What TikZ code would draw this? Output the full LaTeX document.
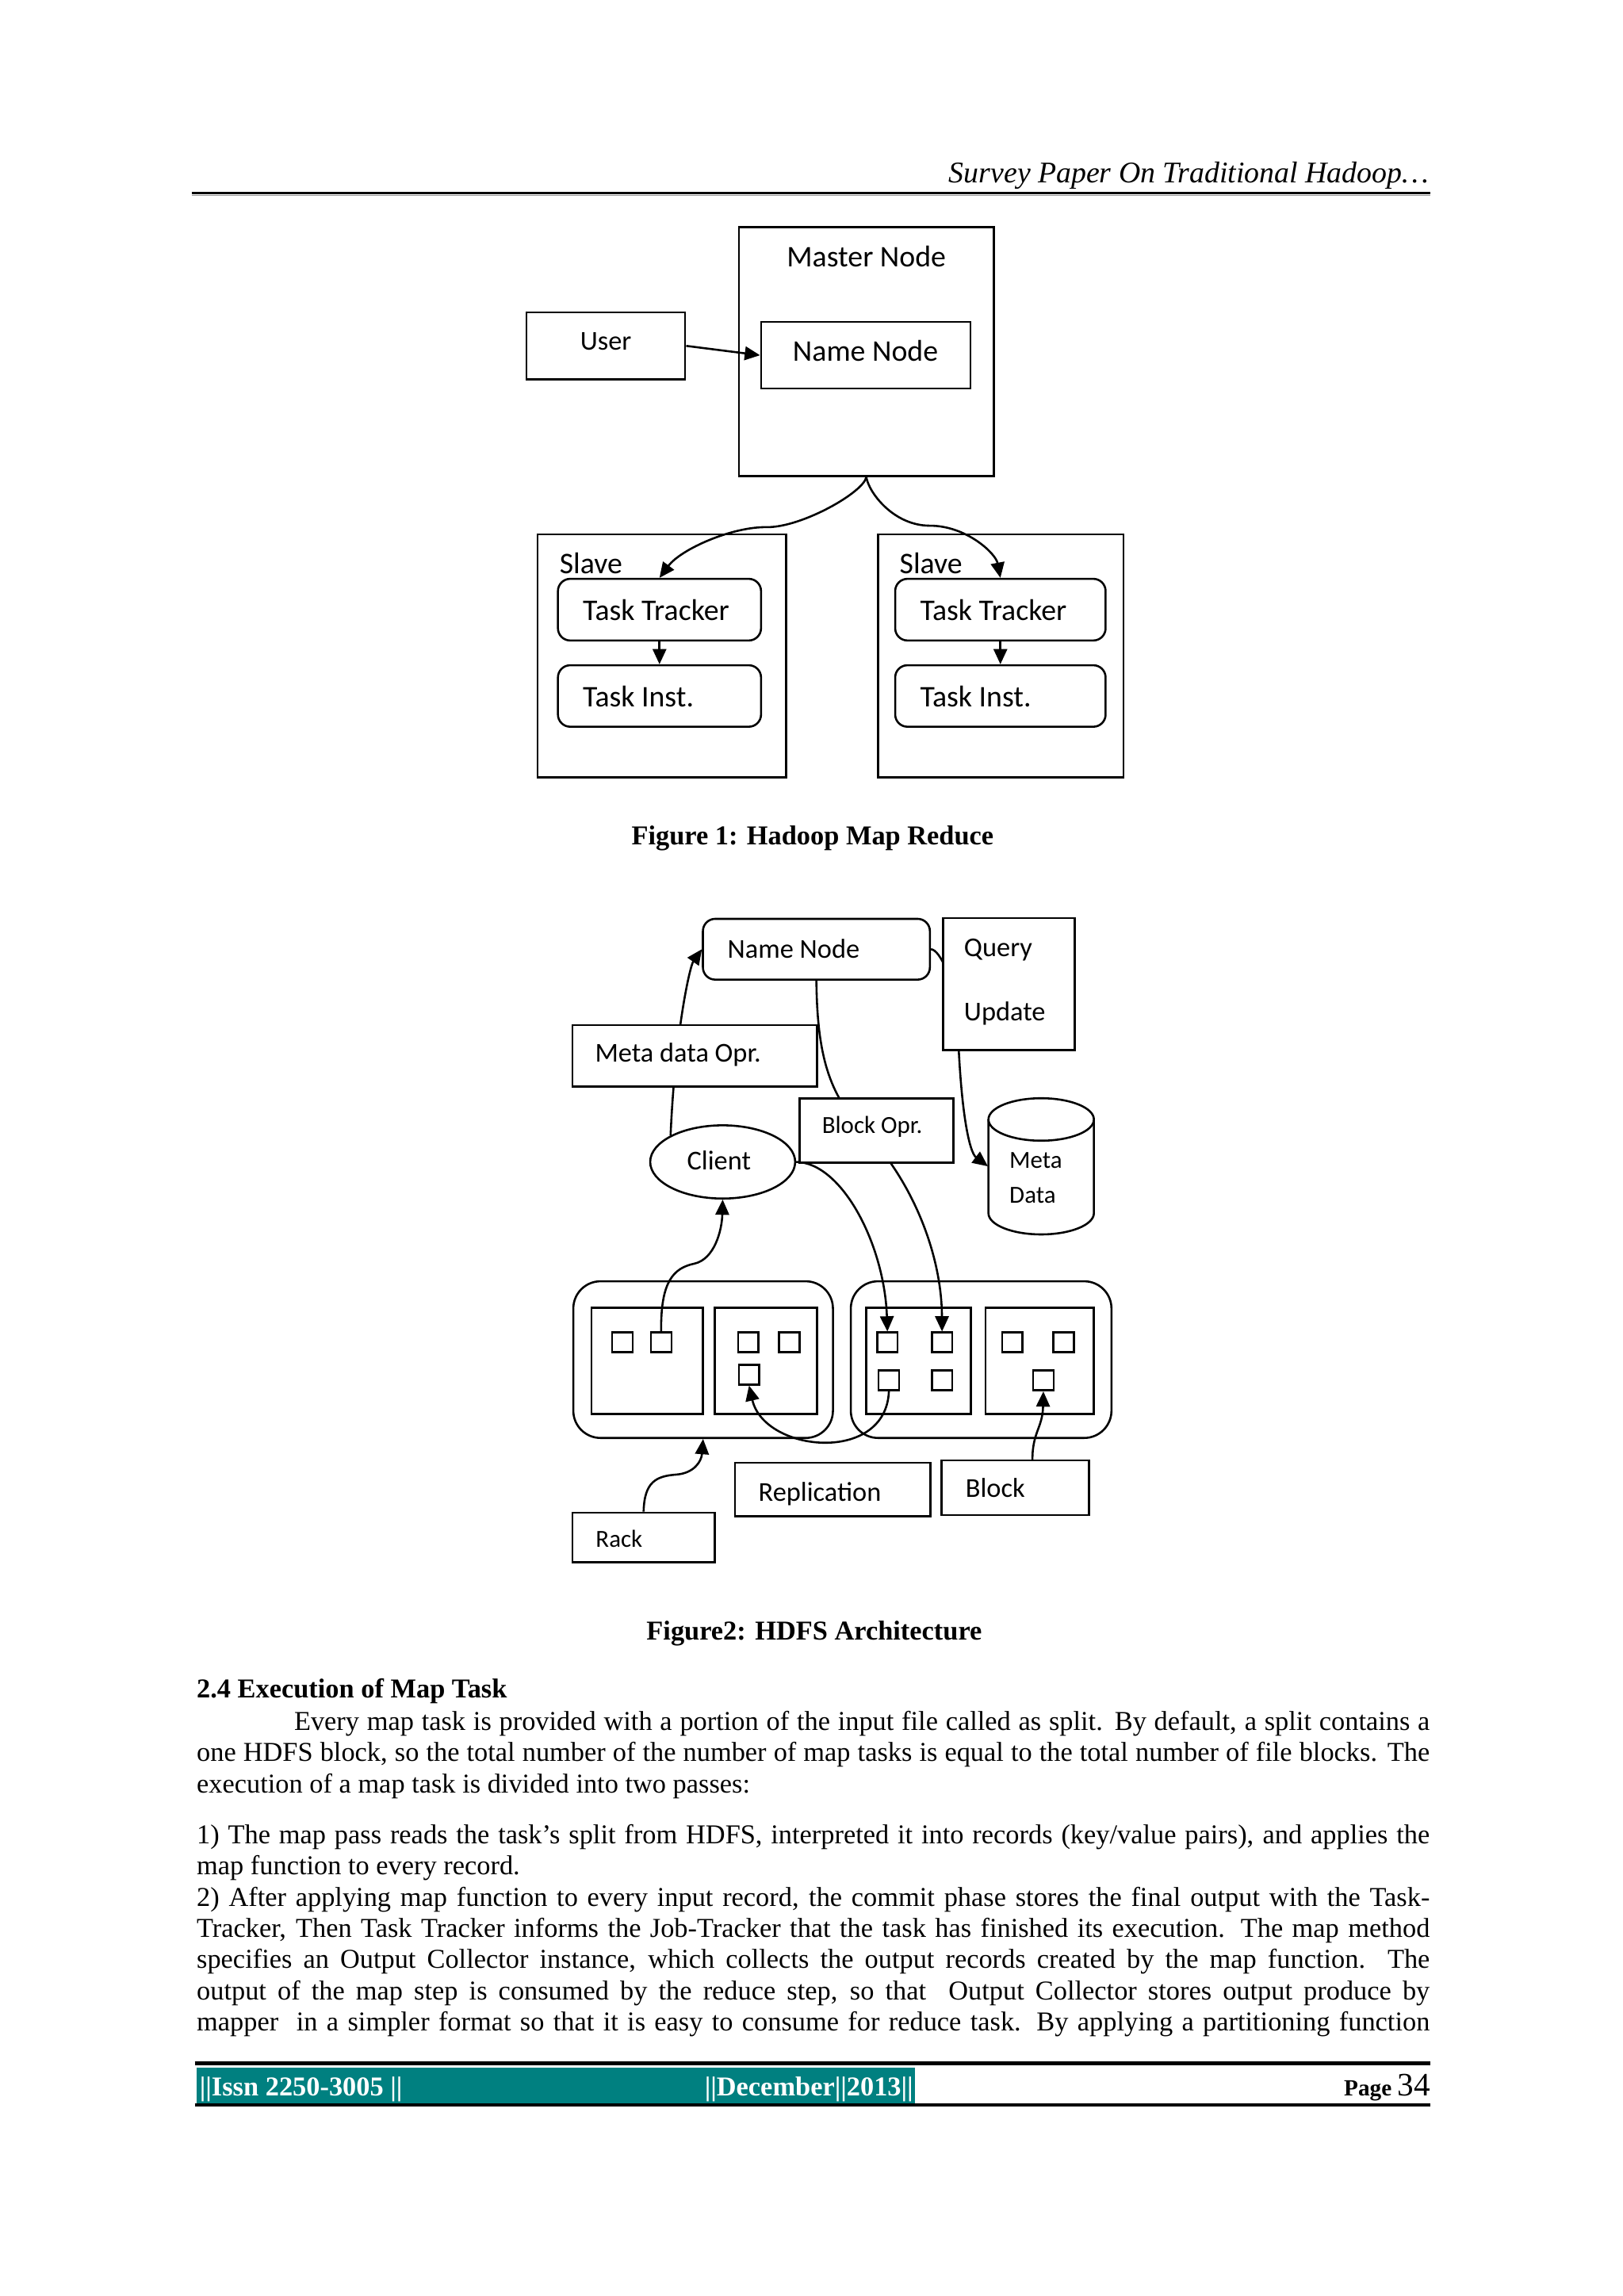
\documentclass[tikz,border=0pt]{standalone}
\usepackage{fontspec}
\setmainfont{Liberation Serif}
\newfontfamily\calfont{Carlito}
\usetikzlibrary{arrows.meta,fit,calc,shapes.geometric}
\pgfdeclarelayer{bg}
\pgfsetlayers{bg,main}
\newdimen\U \U=0.5373pt
\newcommand\jus[2]{\makebox[#1][s]{\spaceskip=0.25em plus 0.6em minus 0.12em\relax #2}}
\definecolor{footteal}{RGB}{0,128,128}
\tikzset{
  thinline/.style={line width=0.75pt},
  box/.style={draw, line width=0.75pt, inner sep=0pt},
  rbox/.style={box, rounded corners=4.5pt},
  wbox/.style={box, fill=white},
  arr/.style={thinline, -{Triangle[length=5.6pt,width=5pt]}},
  tA/.style={font=\calfont\fontsize{11}{13}\selectfont, inner sep=0pt, anchor=base west},
  tB/.style={font=\calfont\fontsize{10}{12}\selectfont, inner sep=0pt, anchor=base west},
  tC/.style={font=\calfont\fontsize{9}{11}\selectfont, inner sep=0pt, anchor=base west},
  body/.style={font=\fontsize{10}{12}\selectfont, inner sep=0pt, anchor=base west},
  foot/.style={font=\bfseries\fontsize{10}{12}\selectfont, text=white, inner sep=0pt},
}
\newcommand\sqr[3]{\node[box, fit={(#2,#3) (#2+14,#3+13.5)}] (#1) {};}
\begin{document}
\begin{tikzpicture}[x=0.5373pt,y=-0.5373pt]
\useasboundingbox (0,0) rectangle (1108,1568);
% header
\node[anchor=base east, inner sep=0pt, font=\itshape\fontsize{11}{13}\selectfont] (hdr) at (976,125) {Survey Paper On Traditional Hadoop…};
\draw[line width=1.1pt] (131,131.8) -- (977,131.8);
\draw[line width=0.5pt, black!40] (131,133.4) -- (977,133.4);

% ---------- Figure 1 ----------
\node[box, fit={(504.5,155) (678.7,325)}] (master) {};
\node[box, fit={(519.7,219.8) (662.6,265.4)}] (nn1) {};
\node[box, fit={(359.6,213.4) (467.9,259)}] (user) {};
\node[box, fit={(367,365) (536.7,531)}] (slave1) {};
\node[box, fit={(599.7,365) (767.3,531)}] (slave2) {};
\node[rbox, fit={(381,395.3) (519.7,437.4)}] (tt1) {};
\node[rbox, fit={(381,454.3) (519.7,496.3)}] (ti1) {};
\node[rbox, fit={(611.3,395.3) (755,437.4)}] (tt2) {};
\node[rbox, fit={(611.3,454.3) (755,496.3)}] (ti2) {};
\node[tA, anchor=base] (lmaster) at (591.6,182.4) {Master Node};
\node[tA, anchor=base] (lnn1) at (591,246.5) {Name Node};
\node[tB, anchor=base] (luser) at (413.7,238.8) {User};
\node[tA] (lslave1) at (381.8,391.6) {Slave};
\node[tA] (lslave2) at (614,391.6) {Slave};
\node[tA] (ltt1) at (397.6,423.5) {Task Tracker};
\node[tA] (lti1) at (397.6,482.7) {Task Inst.};
\node[tA] (ltt2) at (628,423.5) {Task Tracker};
\node[tA] (lti2) at (628,482.7) {Task Inst.};
\node[anchor=base, inner sep=0pt, font=\bfseries\fontsize{10}{12}\selectfont] (cap1) at (554.9,577) {Figure 1: Hadoop Map Reduce};

% ---------- Figure 2 ----------
\node[rbox, fit={(480,627.5) (635,669)}] (nn2) {};
\node[wbox, fit={(644,627) (734,717)}] (qu) {};
\node[wbox, fit={(391,700) (558,742)}] (mdo) {};
\node[wbox, fit={(546,750) (651,794)}] (bop) {};
\node[ellipse, draw, line width=0.75pt, minimum width=99\U, minimum height=50\U, inner sep=0pt] (client) at (493.5,793.5) {};
\node[inner sep=0pt, fit={(675,750) (747,843)}] (md) {};
\draw[thinline] (711,764.5) ellipse [x radius=36\U, y radius=14.5\U];
\draw[thinline] (675,764.5) -- (675,828.5) arc[start angle=180, end angle=360, x radius=36\U, y radius=14.5\U] -- (747,764.5);
% racks
\node[box, rounded corners=10pt, fit={(391.5,875) (568.8,982)}] (rack1) {};
\node[box, rounded corners=10pt, fit={(581,875) (759,982)}] (rack2) {};
\node[box, fit={(404,893) (480,965.6)}] (dnA) {};
\node[box, fit={(488,893) (558,965.6)}] (dnB) {};
\node[box, fit={(591.5,893) (663,965.6)}] (dnC) {};
\node[box, fit={(673,893) (747,965.6)}] (dnD) {};
\sqr{sqA1}{418}{910}
\sqr{sqA2}{444.5}{910}
\sqr{sqB1}{504}{910}
\sqr{sqB2}{532}{910}
\sqr{sqB3}{504.5}{932}
\sqr{sqC1}{599}{910}
\sqr{sqC2}{636.3}{910}
\sqr{sqC3}{600}{936}
\sqr{sqC4}{636.3}{936}
\sqr{sqD1}{684.3}{910}
\sqr{sqD2}{719.3}{910}
\sqr{sqD3}{705.5}{936}
\node[box, fit={(502,999) (635.5,1035.5)}] (repl) {};
\node[box, fit={(643,997.4) (743.6,1034.6)}] (blk) {};
\node[box, fit={(391,1033) (488,1067)}] (rack) {};
% labels
\node[tB] (lnn2) at (496.5,654.3) {Name Node};
\node[tB] (lq) at (658,653) {Query};
\node[tB] (lu) at (658,697.2) {Update};
\node[tB] (lmdo) at (406,725.2) {Meta data Opr.};
\node[tC] (lbop) at (561,773.9) {Block Opr.};
\node[tB, anchor=base] (lcl) at (491,799) {Client};
\node[tC] (lmeta) at (689,798) {Meta};
\node[tC] (ldata) at (689,821.6) {Data};
\node[tB] (lrep) at (517.6,1025) {Replication};
\node[tB] (lblk) at (659,1022.5) {Block};
\node[tC] (lrack) at (406.5,1056.5) {Rack};
\node[anchor=base, inner sep=0pt, font=\bfseries\fontsize{10}{12}\selectfont] (cap2) at (556,1119.7) {Figure2: HDFS Architecture};

% connectors
\begin{pgfonlayer}{bg}
 \draw[arr] (user.east) -- (nn1.west);
 \draw[arr] (master.south) .. controls (590,336) and (548,360) .. (524,360) .. controls (500,359.5) and (465,375) .. (tt1.north);
 \draw[arr] (master.south) .. controls (593,336) and (610,359) .. (635,359) .. controls (660,359) and (680,378) .. (tt2.north);
 \draw[arr] (tt1.south) -- (ti1.north);
 \draw[arr] (tt2.south) -- (ti2.north);
 \draw[arr] (client.153) .. controls (461,705) and (471,660) .. (nn2.west);
 \draw[arr] (nn2.south) .. controls (558,720) and (566,748) .. (590,772) .. controls (622,805) and (643,855) .. (sqC2.north);
 \draw[arr] (client.east) .. controls (575,794) and (604,850) .. (sqC1.north);
 \draw[arr] (nn2.east) .. controls (642,648.5) and (652,670) .. (654,700) .. controls (656,760) and (662,787) .. (md.west);
 \draw[arr] (sqA2.north) .. controls (451,875) and (460,866) .. (474,863) .. controls (488,860) and (493,840) .. (client.south);
 \draw[arr] (sqC3.south) .. controls (605,1000) and (522,992) .. (sqB3.south);
 \draw[arr] ($(blk.north west)!0.615!(blk.north east)$) .. controls (705,978) and (712,975) .. (sqD3.south);
 \draw[arr] (rack.north) .. controls (440,1012) and (448,1008) .. (462,1007) .. controls (474,1006) and (479,998) .. (rack1.south);
\end{pgfonlayer}

% ---------- body text ----------
\node[body] (sec) at (134,1159.5) {\bfseries 2.4 Execution of Map Task};
\node[body] (p1) at (200.5,1181.7) {\jus{775.5\U}{Every map task is provided with a portion of the input file called as split. By default, a split contains a}};
\node[body] (p2) at (134,1203) {\jus{842\U}{one HDFS block, so the total number of the number of map tasks is equal to the total number of file blocks. The}};
\node[body] (p3) at (134,1224.3) {execution of a map task is divided into two passes:};
\node[body] (p4) at (134,1259) {\jus{842\U}{1) The map pass reads the task’s split from HDFS, interpreted it into records (key/value pairs), and applies the}};
\node[body] (p5) at (134,1280.3) {map function to every record.};
\node[body] (p6) at (134,1301.6) {\jus{842\U}{2) After applying map function to every input record, the commit phase stores the final output with the Task-}};
\node[body] (p7) at (134,1322.9) {\jus{842\U}{Tracker, Then Task Tracker informs the Job-Tracker that the task has finished its execution. The map method}};
\node[body] (p8) at (134,1344.2) {\jus{842\U}{specifies an Output Collector instance, which collects the output records created by the map function. The}};
\node[body] (p9) at (134,1365.5) {\jus{842\U}{output of the map step is consumed by the reduce step, so that\ \ Output Collector stores output produce by}};
\node[body] (p10) at (134,1386.8) {\jus{842\U}{mapper\ \ in a simpler format so that it is easy to consume for reduce task. By applying a partitioning function}};

% ---------- footer ----------
\draw[line width=1.4pt] (133,1409) -- (977,1409);
\fill[footteal] (134.5,1411.8) rectangle (625,1436.5);
\draw[line width=1.1pt] (133,1437.6) -- (977,1437.6);
\node[foot, anchor=base west] (issn) at (136,1431.5) {||Issn 2250-3005 ||};
\node[foot, anchor=base east] (dec) at (624,1431.5) {||December||2013||};
\node[anchor=base east, inner sep=0pt] (page) at (977,1431.5) {{\bfseries\fontsize{8.5}{10}\selectfont Page }{\fontsize{12}{14}\selectfont 34}};
\end{tikzpicture}
\end{document}
